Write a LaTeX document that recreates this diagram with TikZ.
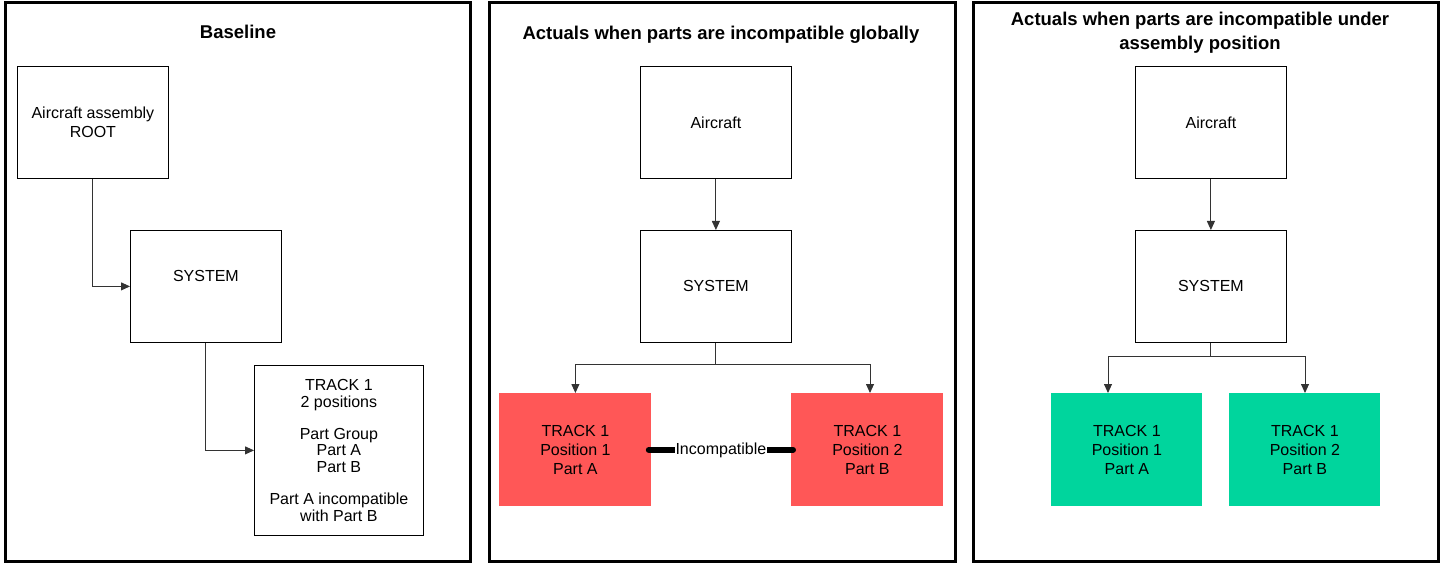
\documentclass[tikz,border=0pt]{standalone}
\usepackage{fontspec}
\setmainfont{Liberation Sans}
\usetikzlibrary{arrows.meta,calc}
\definecolor{redbox}{HTML}{FF5757}
\definecolor{greenbox}{HTML}{00D59D}
\definecolor{conncol}{HTML}{333333}
\begin{document}
\begin{tikzpicture}[x=1pt,y=-1pt,
  panel/.style={draw=black,line width=3pt},
  boxnode/.style={draw=black, line width=0.8pt, inner sep=0pt, align=center,
    font=\fontsize{16}{19}\selectfont, anchor=north west,
    minimum width=151pt, minimum height=112pt},
  redn/.style={boxnode, draw=none, fill=redbox, minimum width=152pt, minimum height=113pt},
  greenn/.style={boxnode, draw=none, fill=greenbox, minimum width=151pt, minimum height=113pt},
  conn/.style={draw=conncol, line width=0.9pt, -{Triangle[length=9pt,width=8pt]}},
  connplain/.style={draw=conncol, line width=0.9pt},
  title/.style={font=\fontsize{18.5}{24}\selectfont\bfseries, align=center, inner sep=0pt}
]
\useasboundingbox (0,0) rectangle (1445,569);

% panels
\draw[panel] (5,3) rectangle (470,561);
\draw[panel] (489,3) rectangle (955,561);
\draw[panel] (973,3) rectangle (1438,561);

% titles
\node[title] (t1) at (238,32) {Baseline};
\node[title] (t2) at (721,35) {Actuals when parts are incompatible globally};
\node[title] (t3) at (1200,33) {Actuals when parts are incompatible under\\assembly position};

% panel 1
\node[boxnode] (root) at (17,66) {Aircraft assembly\\ROOT};
\node[boxnode] (sys1) at (130,230) {SYSTEM\\[1pt]\mbox{}};
\node[boxnode, minimum width=169pt, minimum height=170pt,
  font=\fontsize{16}{16.3}\selectfont] (trk) at (254,365)
  {TRACK 1\\2 positions\\[16.3pt]Part Group\\Part A\\Part B\\[16.3pt]Part A incompatible\\with Part B};
\draw[conn] (root.south) |- (sys1.west);
\draw[conn] (sys1.south) |- (trk.west);

% panel 2
\node[boxnode] (air2) at (640,66) {Aircraft};
\node[boxnode] (sys2) at (640,230) {SYSTEM};
\node[redn] (r1) at (499,393) {TRACK 1\\Position 1\\Part A};
\node[redn] (r2) at (791,393) {TRACK 1\\Position 2\\Part B};
\draw[conn] (air2.south) -- (sys2.north);
\coordinate (b2) at ($(sys2.south)+(0,22)$);
\draw[connplain] (sys2.south) -- (b2);
\draw[conn] (b2) -| (r1.north);
\draw[conn] (b2) -| ([xshift=79pt]r2.north west);
\draw[line width=6pt, line cap=round] ([xshift=-3pt]r1.east) -- node[fill=white, inner sep=1pt,
  font=\fontsize{16}{19}\selectfont] (inc) {Incompatible} ([xshift=2pt]r2.west);

% panel 3
\node[boxnode] (air3) at (1135,66) {Aircraft};
\node[boxnode] (sys3) at (1135,230) {SYSTEM};
\node[greenn] (g1) at (1051,393) {TRACK 1\\Position 1\\Part A};
\node[greenn] (g2) at (1229,393) {TRACK 1\\Position 2\\Part B};
\draw[conn] (air3.south) -- (sys3.north);
\coordinate (b3) at ($(sys3.south)+(0,14)$);
\draw[connplain] (sys3.south) -- (b3);
\draw[conn] (b3) -| ([xshift=57pt]g1.north west);
\draw[conn] (b3) -| ([xshift=76pt]g2.north west);
\end{tikzpicture}
\end{document}
